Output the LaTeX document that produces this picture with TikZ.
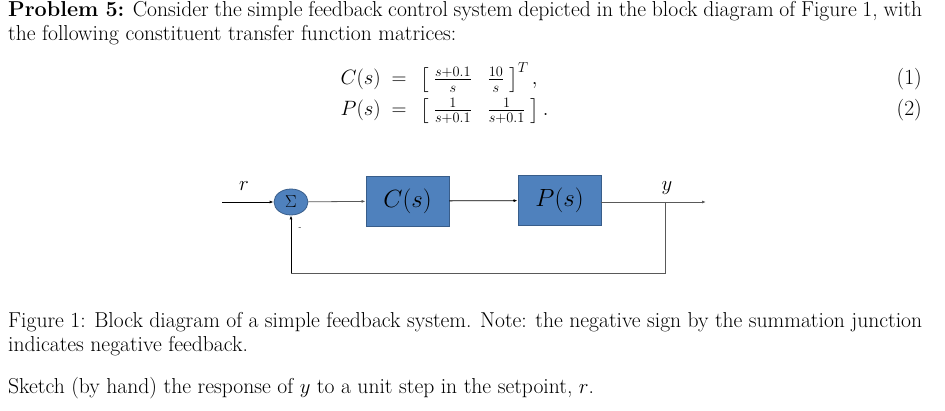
\documentclass[tikz,border=0pt]{standalone}
\usepackage{amsmath}
\usetikzlibrary{arrows.meta,shapes.geometric}
\definecolor{blk}{RGB}{79,129,189}
\definecolor{blkb}{RGB}{56,93,138}
\begin{document}
\begin{tikzpicture}[x=1pt,y=-1pt,
  txt/.style={anchor=base west,inner sep=0,font=\fontsize{21.6}{24}\selectfont},
  eq/.style={inner sep=0,font=\fontsize{21.6}{24}\selectfont},
  box/.style={draw=blkb,fill=blk,line width=0.8pt,minimum width=83pt,minimum height=50pt,inner sep=0,font=\fontsize{24}{26}\selectfont},
  sig/.style={line width=0.8pt,-{Latex[length=4pt,width=3pt]}},
  ln/.style={line width=0.8pt,draw=gray!70!black}]
\useasboundingbox (0,0) rectangle (945,411);
\node[txt,text width=914pt,align=justify] (p) at (8,17) {\textbf{Problem 5:} Consider the simple feedback control system depicted in the block diagram of Figure 1, with the following constituent transfer function matrices:};
\node[eq,anchor=base east] (c) at (381,85) {$C(s)$};
\node[eq,anchor=base] (e1) at (399,85) {$=$};
\node[eq,anchor=base west] (m1) at (420,85) {$\left[\begin{array}{cc}\frac{s+0.1}{s} & \;\frac{10}{s}\end{array}\right]^T,$};
\node[eq,anchor=base east] (pp) at (381,116) {$P(s)$};
\node[eq,anchor=base] (e2) at (399,116) {$=$};
\node[eq,anchor=base west] (m2) at (420,116) {$\left[\begin{array}{cc}\frac{1}{s+0.1} & \;\frac{1}{s+0.1}\end{array}\right].$};
\node[eq,anchor=base east] (n1) at (922,85) {(1)};
\node[eq,anchor=base east] (n2) at (922,116) {(2)};
% diagram
\coordinate (in) at (222,202);
\node[ellipse,draw=blkb,fill=blk,line width=0.8pt,minimum width=34pt,minimum height=26pt,inner sep=0,font=\fontsize{18}{18}\selectfont] (sum) at (291,202) {$\Sigma$};
\node[box] (C) at (407.5,201) {$C(s)$};
\node[box] (P) at (559.5,200.5) {$P(s)$};
\coordinate (br) at (665,202);
\coordinate (out) at (706,202);
\coordinate (d1) at (665,273);
\coordinate (d2) at (291,273);
\node[inner sep=0,font=\fontsize{22}{22}\selectfont] (rl) at (244,186) {$r$};
\node[inner sep=0,font=\fontsize{22}{22}\selectfont] (yl) at (667,188) {$y$};
\node[inner sep=0,font=\fontsize{8}{8}\selectfont] (minus) at (300,229) {-};
\draw[sig] (in) -- (sum);
\draw[sig,draw=gray!70!black] (sum) -- (C);
\draw[sig] (C) -- (P);
\draw[ln] (P.east|-br) -- (br);
\draw[sig,draw=gray!70!black] (br) -- (out);
\draw[ln] (br) -- (d1) -- (d2);
\draw[sig] (d2) -- (sum);
\node[txt,text width=914pt,align=justify] (cap) at (8,328) {Figure 1: Block diagram of a simple feedback system. Note: the negative sign by the summation junction indicates negative feedback.};
\node[txt] (sk) at (8,394) {Sketch (by hand) the response of $y$ to a unit step in the setpoint, $r$.};
\end{tikzpicture}
\end{document}
